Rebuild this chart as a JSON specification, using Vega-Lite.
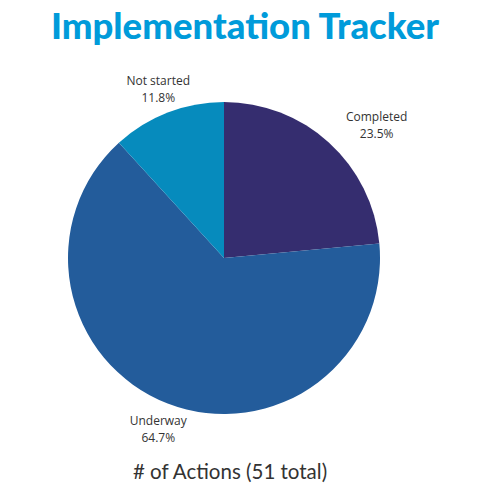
{
  "$schema": "https://vega.github.io/schema/vega-lite/v6.json",
  "background": "white",
  "padding": {"left": 0, "right": 50, "top": 9, "bottom": 10},
  "title": {
    "text": "# of Actions (51 total)",
    "orient": "bottom",
    "anchor": "middle",
    "dx": 6,
    "offset": 7,
    "font": "Lato",
    "fontSize": 20.5,
    "fontWeight": "normal",
    "color": "#333333"
  },
  "vconcat": [
    {
      "title": {
        "text": "Implementation Tracker",
        "anchor": "middle",
        "dx": 21,
        "offset": 14,
        "font": "Lato",
        "fontSize": 36.5,
        "fontWeight": 900,
        "color": "#009bda"
      },
      "width": 448,
      "height": 396,
      "data": {
        "values": [
          {"status": "Completed", "count": 12, "rank": 1},
          {"status": "Underway", "count": 33, "rank": 2},
          {"status": "Not started", "count": 6, "rank": 3}
        ]
      },
      "transform": [
        {"joinaggregate": [{"op": "sum", "field": "count", "as": "total"}]},
        {"calculate": "datum.status + '\\n' + format(datum.count / datum.total, '.1%')", "as": "label"},
        {"stack": "count", "groupby": [], "sort": [{"field": "rank", "order": "ascending"}], "as": ["t0", "t1"]},
        {"calculate": "(datum.t0 + datum.t1) / 2", "as": "tmid"}
      ],
      "layer": [
        {
          "mark": {"type": "arc", "outerRadius": 156},
          "encoding": {
            "theta": {"field": "t0", "type": "quantitative", "stack": null, "scale": {"domain": [0, 51]}},
            "theta2": {"field": "t1"},
            "color": {
              "field": "status",
              "type": "nominal",
              "scale": {
                "domain": ["Completed", "Underway", "Not started"],
                "range": ["#352d6f", "#235c9b", "#068bbd"]
              },
              "legend": null
            }
          }
        },
        {
          "transform": [{"filter": "datum.status != 'Completed'"}],
          "mark": {
            "type": "text",
            "radius": 182,
            "dy": -7,
            "lineBreak": "\n",
            "font": "Open Sans",
            "fontSize": 12,
            "lineHeight": 17,
            "color": "#333333"
          },
          "encoding": {
            "theta": {"field": "tmid", "type": "quantitative", "stack": null},
            "text": {"field": "label", "type": "nominal"}
          }
        },
        {
          "transform": [{"filter": "datum.status == 'Completed'"}],
          "mark": {
            "type": "text",
            "radius": 182,
            "dy": -7,
            "dx": 30,
            "lineBreak": "\n",
            "font": "Open Sans",
            "fontSize": 12,
            "lineHeight": 17,
            "color": "#333333"
          },
          "encoding": {
            "theta": {"field": "tmid", "type": "quantitative", "stack": null},
            "text": {"field": "label", "type": "nominal"}
          }
        }
      ]
    }
  ],
  "config": {"view": {"stroke": null}}
}
